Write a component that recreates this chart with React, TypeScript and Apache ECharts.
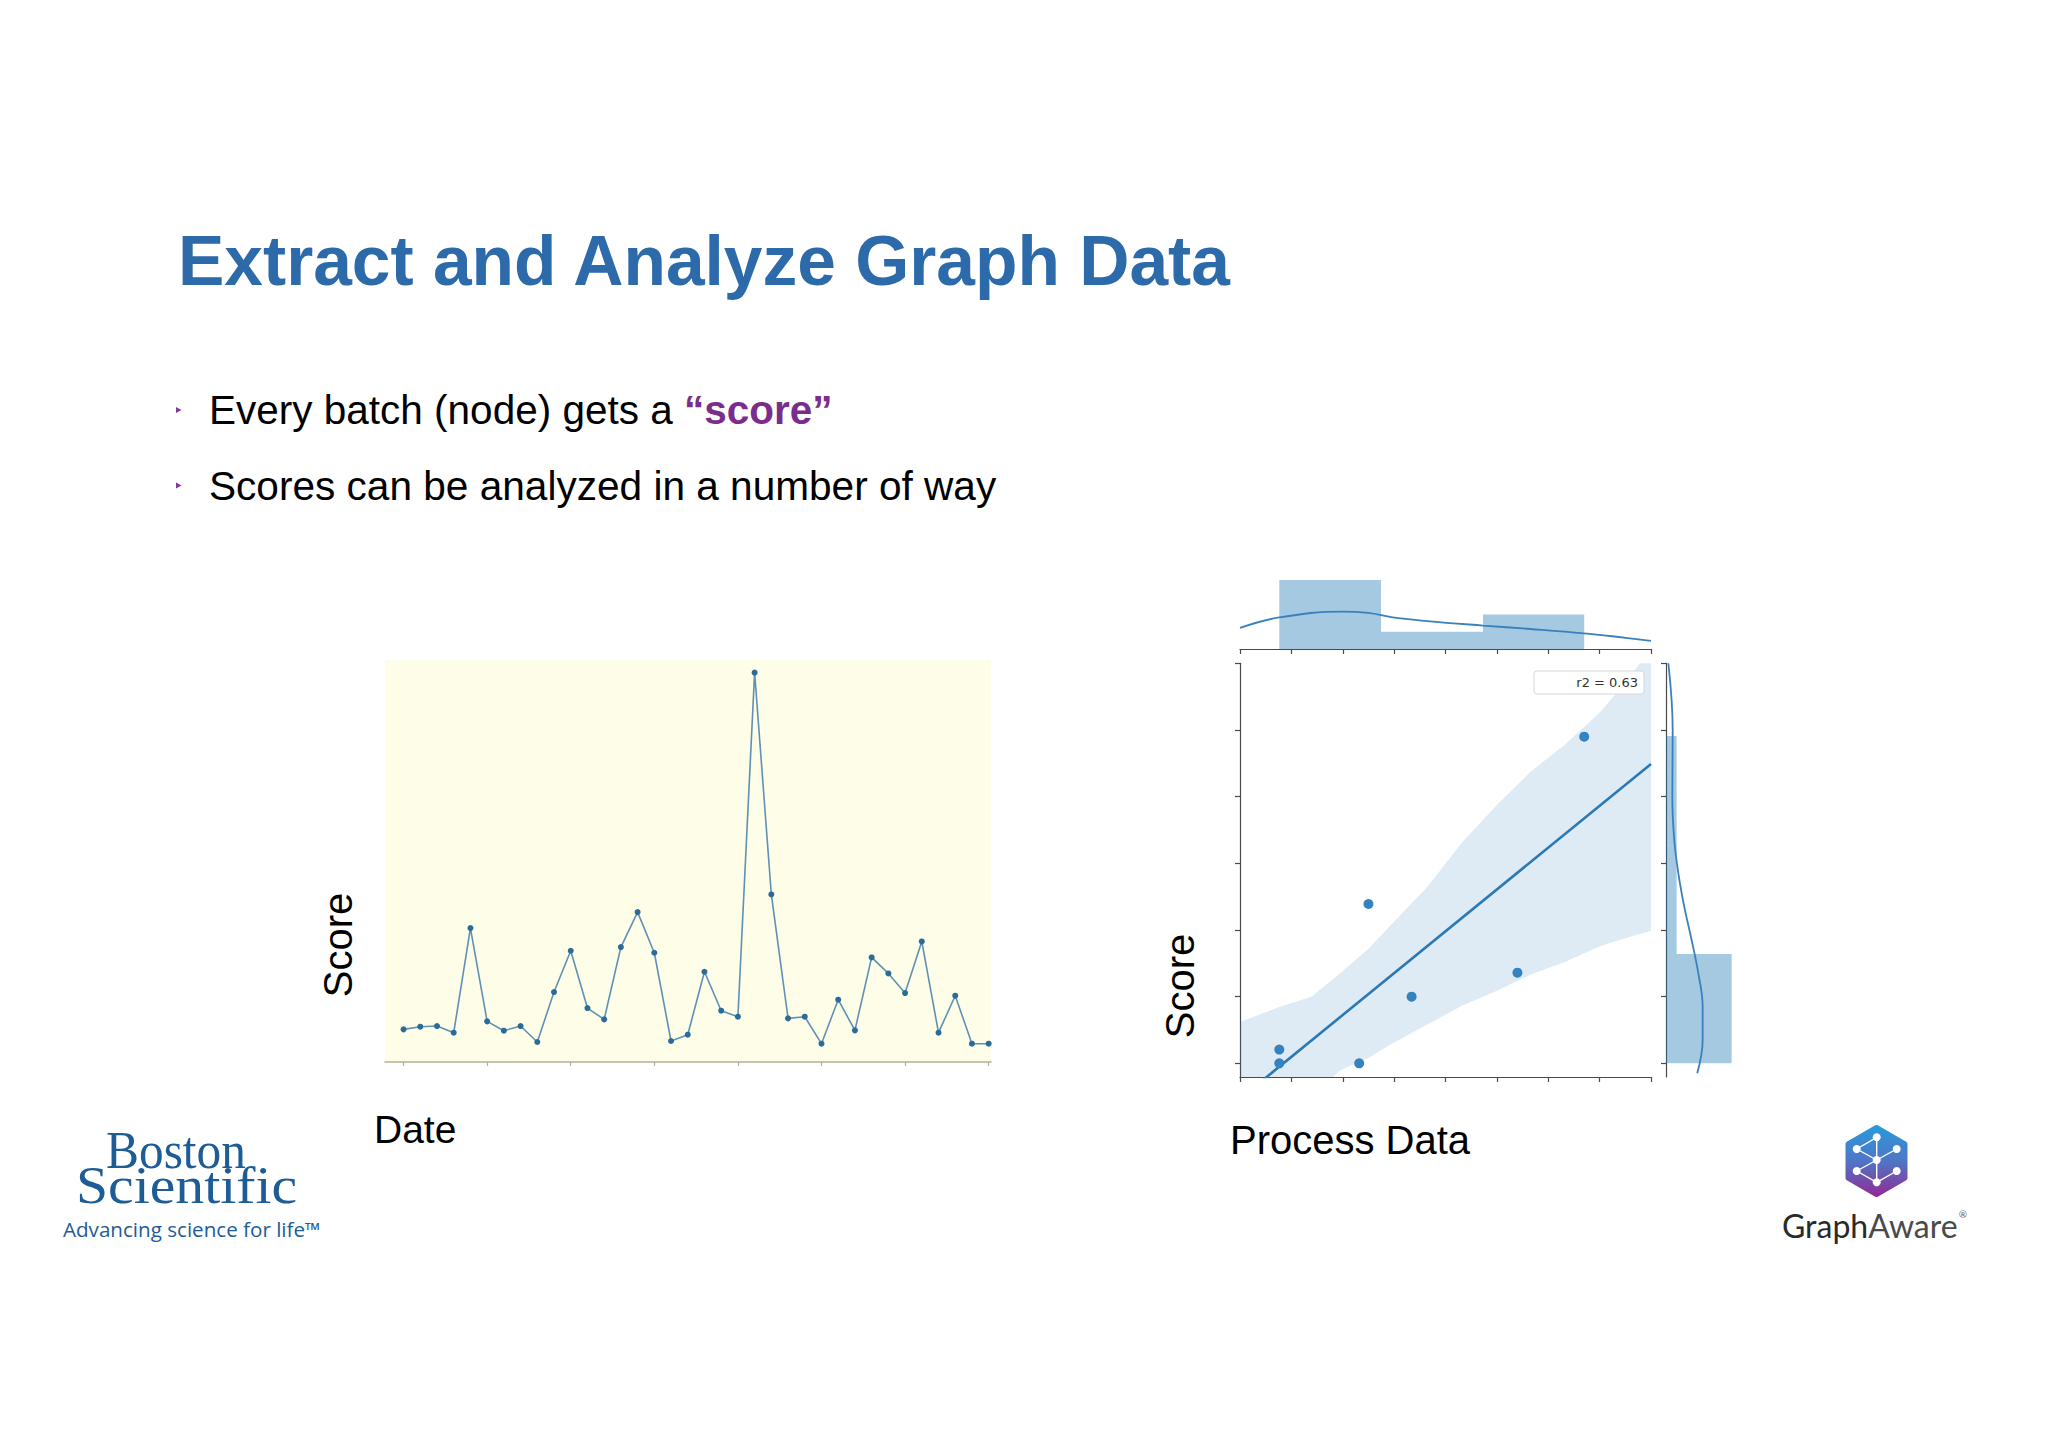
import React, { useEffect, useRef } from "react";
import * as echarts from "echarts";

// ---------- Left chart: score over date ----------
const dateScores = [
  0.98, 1.06, 1.08, 0.88, 4.02, 1.22, 0.94, 1.08, 0.6, 2.1, 3.34, 1.62, 1.28, 3.45, 4.5, 3.28, 0.63, 0.82,
  2.71, 1.54, 1.36, 11.69, 5.03, 1.31, 1.36, 0.55, 1.87, 0.95, 3.14, 2.66, 2.07, 3.62, 0.88, 1.99, 0.55, 0.55,
];
const dateTicks = [0, 5, 10, 15, 20, 25, 30, 35];

// ---------- Right chart: score vs process data ----------
const processX = [0.765, 0.765, 2.32, 2.5, 3.34, 5.4, 6.7];
const processScore = [0.206, 0, 0, 2.39, 1.0, 1.36, 4.9];
const processTicks = [0, 1, 2, 3, 4, 5, 6, 7, 8];
const scoreTicks = [0, 1, 2, 3, 4, 5, 6];

// regression line (read end points)
const fitX = [0, 8];
const fitY = [-0.53, 4.49];

// confidence band
const bandX = [0, 0.82, 1.39, 1.96, 2.5, 2.97, 3.64, 4.31, 4.98, 5.65, 6.32, 6.99, 7.33, 8.0];
const bandUpper = [0.62, 0.86, 1.0, 1.36, 1.72, 2.1, 2.64, 3.3, 3.86, 4.37, 4.78, 5.25, 5.56, 6.2];
const bandLower = [-1.74, -0.95, -0.5, -0.1, 0.08, 0.3, 0.58, 0.86, 1.08, 1.33, 1.52, 1.75, 1.84, 1.99];

// top marginal histogram + kde
const topBinStart = [0.765, 2.745, 4.73];
const topBinEnd = [2.745, 4.73, 6.7];
const topCounts = [4, 1, 2];
const topKdeX = [0, 0.765, 1.99, 2.5, 2.97, 3.64, 4.73, 5.65, 6.69, 7.33, 8.0];
const topKdeY = [1.22, 1.83, 2.17, 2.09, 1.83, 1.62, 1.36, 1.16, 0.91, 0.71, 0.47];

// right marginal histogram + kde
const rightBinStart = [0.0, 1.64, 3.27];
const rightBinEnd = [1.64, 3.27, 4.91];
const rightWidths = [5.0, 0.81, 0.81];
const rightKdeScore = [6.0, 5.0, 4.0, 3.35, 2.85, 2.35, 1.85, 1.35, 0.85, 0.35, -0.15];
const rightKdeDensity = [0.18, 0.51, 0.48, 0.63, 0.94, 1.39, 1.95, 2.46, 2.79, 2.79, 2.38];

const SANS = "'Liberation Sans', Arial, Helvetica, sans-serif";
const SERIF = "'Liberation Serif', 'DejaVu Serif', serif";
const SPINE = "#4a4a4a";

function buildOption() {
  const spineAxis = (gridIndex: number, min: number, max: number, ticks: number[]) => ({
    gridIndex,
    type: "value",
    min,
    max,
    axisLine: { show: true, onZero: false, lineStyle: { color: SPINE, width: 1.2 } },
    axisTick: { show: true, inside: false, length: 5, customValues: ticks, lineStyle: { color: SPINE, width: 1.2 } },
    axisLabel: { show: false },
    splitLine: { show: false },
  });
  const hiddenAxis = (gridIndex: number, min: number, max: number) => ({
    gridIndex,
    type: "value",
    min,
    max,
    show: false,
    splitLine: { show: false },
  });

  const histRect = (fill: string, horizontal: boolean) => (params: any, api: any) => {
    const a = api.value(0);
    const b = api.value(1);
    const v = api.value(2);
    if (!horizontal) {
      const p0 = api.coord([a, v]);
      const p1 = api.coord([b, 0]);
      return {
        type: "rect",
        shape: { x: p0[0], y: p0[1], width: p1[0] - p0[0], height: p1[1] - p0[1] },
        style: { fill },
      };
    }
    const p0 = api.coord([v, b]);
    const p1 = api.coord([0, a]);
    return {
      type: "rect",
      shape: { x: p1[0], y: p0[1], width: p0[0] - p1[0], height: p1[1] - p0[1] },
      style: { fill },
    };
  };

  const bandPolygon = (params: any, api: any) => {
    const pts: number[][] = [];
    for (let i = 0; i < bandX.length; i++) pts.push(api.coord([bandX[i], bandUpper[i]]));
    for (let i = bandX.length - 1; i >= 0; i--) pts.push(api.coord([bandX[i], bandLower[i]]));
    return {
      type: "polygon",
      shape: { points: pts },
      style: { fill: "rgba(31,119,180,0.15)" },
    };
  };

  const text = (x: number, y: number, str: string, size: number, extra: any = {}, elExtra: any = {}) => ({
    type: "text",
    x,
    y,
    z: 100,
    ...elExtra,
    style: {
      text: str,
      fontSize: size,
      fontFamily: SANS,
      fill: "#000",
      align: "left",
      verticalAlign: "middle",
      ...extra,
    },
  });

  // GraphAware logo geometry
  const hex = [
    [1876.5, 1127.5],
    [1905, 1144],
    [1905, 1178],
    [1876.5, 1194.5],
    [1848, 1178],
    [1848, 1144],
  ];
  const nodes: Record<string, number[]> = {
    t: [1876.7, 1137.3],
    lu: [1856.7, 1149],
    ru: [1896.7, 1149],
    c: [1876.7, 1160],
    ll: [1856.7, 1171],
    rl: [1896.7, 1171],
    b: [1876.7, 1182.3],
  };
  const edges = [
    ["t", "lu"],
    ["t", "c"],
    ["lu", "c"],
    ["c", "ru"],
    ["c", "ll"],
    ["c", "b"],
    ["ll", "b"],
    ["rl", "b"],
  ];
  const hexGrad = new echarts.graphic.LinearGradient(0, 0, 0, 1, [
    { offset: 0, color: "#2b98da" },
    { offset: 0.5, color: "#4f76c6" },
    { offset: 1, color: "#8e2e98" },
  ]);

  const graphic: any[] = [
    // title
    text(178, 261, "Extract and Analyze Graph Data", 69.5, { fontWeight: "bold", fill: "#2c6aa9" }),
    // bullets
    {
      type: "polygon",
      z: 100,
      shape: { points: [[176, 407], [181.5, 410], [176, 413]] },
      style: { fill: "#7d3c98" },
    },
    {
      type: "polygon",
      z: 100,
      shape: { points: [[176, 482.5], [181.5, 485.5], [176, 488.5]] },
      style: { fill: "#7d3c98" },
    },
    {
      type: "text",
      x: 209,
      y: 410,
      z: 100,
      style: {
        text: "{a|Every batch (node) gets a }{b|\u201cscore\u201d}",
        align: "left",
        verticalAlign: "middle",
        rich: {
          a: { fontSize: 40.5, fontFamily: SANS, fill: "#000" },
          b: { fontSize: 40.5, fontFamily: SANS, fontWeight: "bold", fill: "#7a2d8c" },
        },
      },
    },
    text(209, 485.5, "Scores can be analyzed in a number of way", 40.6),
    // axis titles
    text(338, 945, "Score", 40, { align: "center" }, { rotation: Math.PI / 2 }),
    text(374, 1129, "Date", 39),
    text(1180, 986, "Score", 40, { align: "center" }, { rotation: Math.PI / 2 }),
    text(1230, 1140, "Process Data", 40),
    // r2 legend
    {
      type: "rect",
      z: 100,
      shape: { x: 1534, y: 671, width: 110, height: 23, r: 3 },
      style: { fill: "#ffffff", stroke: "#d6d6d6", lineWidth: 1 },
    },
    {
      type: "text",
      x: 1638,
      y: 682.5,
      z: 101,
      style: {
        text: "r2 = 0.63",
        fontSize: 13,
        fontFamily: "'DejaVu Sans', sans-serif",
        fill: "#333",
        align: "right",
        verticalAlign: "middle",
      },
    },
    // Boston Scientific logo
    text(106, 1151, "Boston", 52, { fontFamily: SERIF, fill: "#1e5c96" }, { scaleX: 0.95 }),
    text(76, 1185, "Scientific", 52, { fontFamily: SERIF, fill: "#1e5c96" }, { scaleX: 1.11 }),
    text(63, 1229, "Advancing science for life\u2122", 20, { fontFamily: "'Open Sans', 'Noto Sans', sans-serif", fill: "#1e5c96" }, { scaleX: 1.03 }),
    // GraphAware logo
    {
      type: "polygon",
      z: 100,
      shape: { points: hex },
      style: { fill: hexGrad, stroke: hexGrad, lineWidth: 5, lineJoin: "round" },
    },
    ...edges.map(([a, b]) => ({
      type: "line",
      z: 101,
      shape: { x1: nodes[a][0], y1: nodes[a][1], x2: nodes[b][0], y2: nodes[b][1] },
      style: { stroke: "#ffffff", lineWidth: 1.4 },
    })),
    ...Object.keys(nodes).map((k) => ({
      type: "circle",
      z: 102,
      shape: { cx: nodes[k][0], cy: nodes[k][1], r: 4 },
      style: { fill: "#ffffff" },
    })),
    {
      type: "text",
      x: 1782,
      y: 1225,
      z: 100,
      style: {
        text: "{g|Graph}{w|Aware}{r|\u00ae}",
        align: "left",
        verticalAlign: "middle",
        rich: {
          g: { fontSize: 32, fontFamily: "Lato, 'Noto Sans', sans-serif", fill: "#2a2a2a" },
          w: { fontSize: 32, fontFamily: "Lato, 'Noto Sans', sans-serif", fill: "#4a4a4a" },
          r: { fontSize: 10, fontFamily: "Lato, sans-serif", fill: "#666", verticalAlign: "top", padding: [0, 0, 14, 1] },
        },
      },
    },
  ];

  return {
    animation: false,
    backgroundColor: "#ffffff",
    grid: [
      { left: 385, top: 660, width: 606, height: 402, show: true, backgroundColor: "#fdfde8", borderWidth: 0 },
      { left: 1240, top: 663.3, width: 411, height: 413.7 },
      { left: 1240, top: 571, width: 411, height: 78 },
      { left: 1666, top: 663.3, width: 80, height: 413.7 },
    ],
    xAxis: [
      {
        gridIndex: 0,
        type: "value",
        min: -1.11,
        max: 35.14,
        axisLine: { show: true, onZero: false, lineStyle: { color: "#b3b198", width: 1.5 } },
        axisTick: { show: true, length: 4, customValues: dateTicks, lineStyle: { color: "#b3b198", width: 1.2 } },
        axisLabel: { show: false },
        splitLine: { show: false },
      },
      spineAxis(1, 0, 8, processTicks),
      spineAxis(2, 0, 8, processTicks),
      hiddenAxis(3, 0, 6.09),
    ],
    yAxis: [
      hiddenAxis(0, 0, 12.07),
      spineAxis(1, -0.205, 6.0, scoreTicks),
      hiddenAxis(2, 0, 4.52),
      spineAxis(3, -0.205, 6.0, scoreTicks),
    ],
    series: [
      {
        type: "line",
        xAxisIndex: 0,
        yAxisIndex: 0,
        data: dateScores.map((v, i) => [i, v]),
        symbol: "circle",
        symbolSize: 6,
        lineStyle: { color: "#5f91b4", width: 1.6 },
        itemStyle: { color: "#2a6b97" },
        clip: false,
      },
      {
        type: "custom",
        xAxisIndex: 1,
        yAxisIndex: 1,
        clip: true,
        renderItem: bandPolygon,
        data: [[bandX[0], bandUpper[0]]],
        z: 1,
      },
      {
        type: "line",
        xAxisIndex: 1,
        yAxisIndex: 1,
        symbol: "none",
        lineStyle: { color: "#2a78b6", width: 2.6 },
        data: fitX.map((x, i) => [x, fitY[i]]),
        z: 3,
      },
      {
        type: "scatter",
        xAxisIndex: 1,
        yAxisIndex: 1,
        symbolSize: 10,
        itemStyle: { color: "#3482c0", opacity: 1 },
        data: processX.map((x, i) => [x, processScore[i]]),
        z: 4,
      },
      {
        type: "custom",
        xAxisIndex: 2,
        yAxisIndex: 2,
        renderItem: histRect("rgba(31,119,180,0.4)", false),
        data: topBinStart.map((s, i) => [s, topBinEnd[i], topCounts[i]]),
        z: 2,
      },
      {
        type: "line",
        xAxisIndex: 2,
        yAxisIndex: 2,
        smooth: 0.4,
        symbol: "none",
        lineStyle: { color: "#3a80bd", width: 1.8 },
        data: topKdeX.map((x, i) => [x, topKdeY[i]]),
        z: 3,
      },
      {
        type: "custom",
        xAxisIndex: 3,
        yAxisIndex: 3,
        renderItem: histRect("rgba(31,119,180,0.4)", true),
        data: rightBinStart.map((s, i) => [s, rightBinEnd[i], rightWidths[i]]),
        z: 2,
      },
      {
        type: "line",
        xAxisIndex: 3,
        yAxisIndex: 3,
        smooth: 0.4,
        symbol: "none",
        lineStyle: { color: "#3a80bd", width: 1.8 },
        data: rightKdeScore.map((y, i) => [rightKdeDensity[i], y]),
        z: 3,
      },
    ],
    graphic,
  };
}

export default function App() {
  const ref = useRef<HTMLDivElement>(null);
  useEffect(() => {
    if (!ref.current) return;
    const chart = echarts.init(ref.current, null, { renderer: "svg" });
    chart.setOption(buildOption() as any);
    return () => chart.dispose();
  }, []);
  return (
    <div
      ref={ref}
      style={{ position: "fixed", left: 0, top: 0, width: 2048, height: 1448, background: "#ffffff" }}
    />
  );
}
